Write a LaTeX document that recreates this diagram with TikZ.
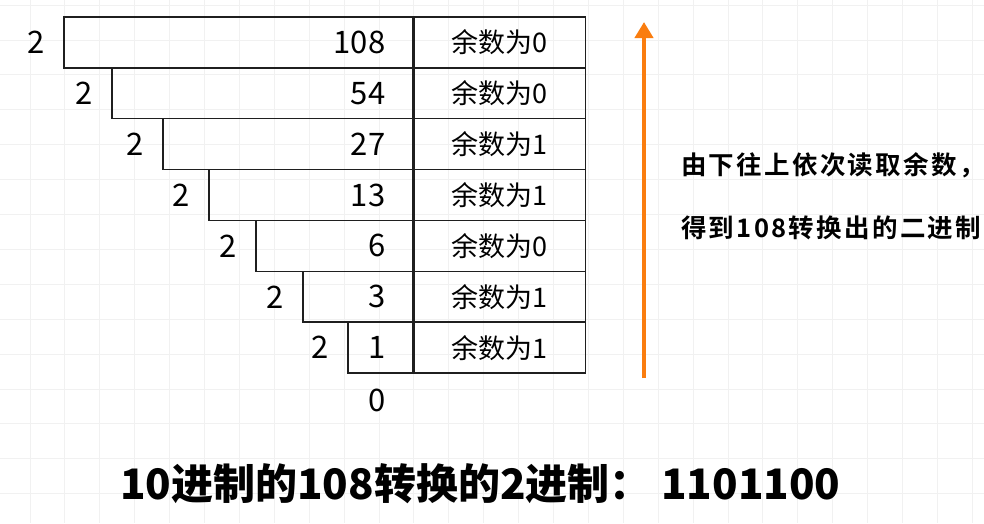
\documentclass[tikz,border=0pt]{standalone}
\usepackage{fontspec}
\setmainfont{Noto Sans CJK SC}
\newfontfamily\notefont[LetterSpace=9]{Noto Sans CJK SC Bold}
\usetikzlibrary{positioning,arrows.meta}

\definecolor{gridgray}{RGB}{241,241,241}
\definecolor{arroworange}{RGB}{250,125,15}

\begin{document}
\begin{tikzpicture}[
  x=1pt, y=-1pt,
  cell/.style={draw=black!88, line width=1.6pt, minimum height=50.9pt, inner sep=0pt},
  rem/.style={cell, minimum width=171pt, font=\fontsize{27}{27}\selectfont},
  digit/.style={inner sep=0pt, font=\fontsize{31}{31}\selectfont},
  note/.style={inner sep=0pt, anchor=west, font=\notefont\fontsize{25.5}{25.5}\selectfont},
]
\useasboundingbox (0,0) rectangle (984,523);
\fill[white] (0,0) rectangle (984,523);
\foreach \k in {0,...,29}
  \draw[gridgray, line width=1pt] ({-4.9+34.9*\k},0) -- ({-4.9+34.9*\k},523);
\foreach \k in {0,...,15}
  \draw[gridgray, line width=1pt] (0,{5.1+34.9*\k}) -- (984,{5.1+34.9*\k});

\foreach \i/\l/\n/\r in {1/63/108/0,2/111/54/0,3/162/27/1,4/208/13/1,5/255/6/0,6/302/3/1,7/347/1/1}
{
  \node[cell, minimum width={412-\l}, anchor=north west] (c\i) at (\l,{16+50.9*(\i-1)}) {};
  \node[rem, anchor=west] (r\i) at (c\i.east) {余数为\r};
  \node[digit, anchor=east] (v\i) at ([xshift=-28pt]c\i.east) {\n};
  \node[digit] (d\i) at ([xshift=-27pt]c\i.west) {2};
}
\node[digit, anchor=east] (z) at ([yshift=-53pt]v7.east) {0};

\coordinate (tail) at (644,378);
\coordinate (tip) at (644,22);
\draw[arroworange, line width=4pt, -{Triangle[width=18pt,length=16pt]}] (tail) -- (tip);

\node[note] (note1) at (681,165) {由下往上依次读取余数，};
\node[note] (note2) at (681,228) {得到108转换出的二进制};

\node[inner sep=0pt, anchor=west, font=\bfseries\fontsize{42}{42}\selectfont] (result) at (120,484)
  {10进制的108转换的2进制：\ 1101100};
\end{tikzpicture}
\end{document}
